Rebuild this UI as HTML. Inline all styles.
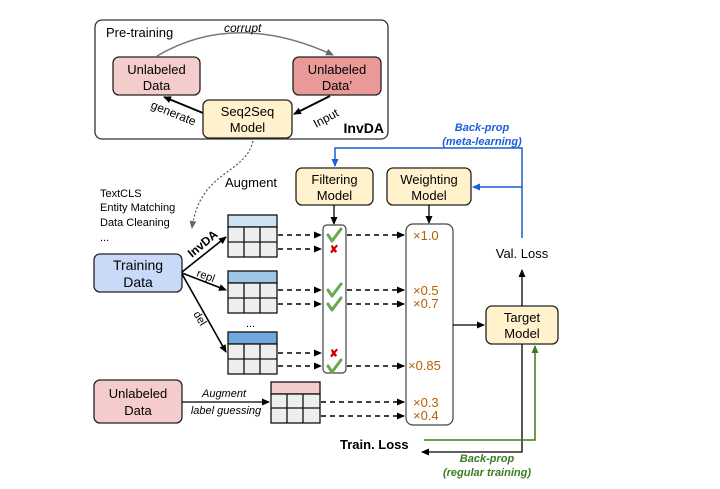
<!DOCTYPE html>
<html><head><meta charset="utf-8"><style>
html,body{margin:0;padding:0;background:#fff;}
svg{display:block;font-family:"Liberation Sans",Arial,sans-serif;}
</style></head><body>
<svg width="720" height="489" viewBox="0 0 720 489" xmlns="http://www.w3.org/2000/svg">
<defs>
<marker id="ab" markerWidth="8" markerHeight="8" refX="7" refY="4" orient="auto" markerUnits="userSpaceOnUse"><path d="M0,0.5 L8,4 L0,7.5 z" fill="#000"/></marker>
<marker id="ag" markerWidth="8" markerHeight="8" refX="7" refY="4" orient="auto" markerUnits="userSpaceOnUse"><path d="M0,0.5 L8,4 L0,7.5 z" fill="#666"/></marker>
<marker id="abl" markerWidth="8" markerHeight="8" refX="7" refY="4" orient="auto" markerUnits="userSpaceOnUse"><path d="M0,0.5 L8,4 L0,7.5 z" fill="#1a5fd6"/></marker>
<marker id="agr" markerWidth="8" markerHeight="8" refX="7" refY="4" orient="auto" markerUnits="userSpaceOnUse"><path d="M0,0.5 L8,4 L0,7.5 z" fill="#3b7d1e"/></marker>
</defs>

<!-- Pre-training box -->
<rect x="95" y="20" width="293" height="119" rx="7" fill="#fff" stroke="#333" stroke-width="1.3"/>
<text x="106" y="37" font-size="13">Pre-training</text>
<text x="384" y="133" font-size="14" font-weight="bold" text-anchor="end">InvDA</text>
<path d="M157,56 Q235,10 333,55" fill="none" stroke="#777" stroke-width="1.5" marker-end="url(#ag)"/>
<text x="224" y="32" font-size="12" font-style="italic">corrupt</text>
<rect x="113" y="57" width="87" height="38" rx="6" fill="#f4cccc" stroke="#222" stroke-width="1.3"/>
<text x="156.5" y="74" font-size="13" text-anchor="middle">Unlabeled</text>
<text x="156.5" y="90" font-size="13" text-anchor="middle">Data</text>
<rect x="293" y="57" width="88" height="38" rx="6" fill="#ea9999" stroke="#222" stroke-width="1.3"/>
<text x="337" y="74" font-size="13" text-anchor="middle">Unlabeled</text>
<text x="337" y="90" font-size="13" text-anchor="middle">Data’</text>
<rect x="203" y="100" width="89" height="38" rx="6" fill="#fff2cc" stroke="#222" stroke-width="1.3"/>
<text x="247.5" y="116" font-size="13" text-anchor="middle">Seq2Seq</text>
<text x="247.5" y="132" font-size="13" text-anchor="middle">Model</text>
<line x1="203" y1="113" x2="164" y2="97" stroke="#000" stroke-width="2" marker-end="url(#ab)"/>
<text x="150" y="108" font-size="12" transform="rotate(22 150 108)">generate</text>
<line x1="330" y1="96" x2="294" y2="114" stroke="#000" stroke-width="2" marker-end="url(#ab)"/>
<text x="316" y="128" font-size="12" transform="rotate(-28 316 128)">Input</text>

<!-- Augment dashed curve -->
<path d="M253,141 C245,175 200,170 192,228" fill="none" stroke="#555" stroke-width="1.2" stroke-dasharray="2,2" marker-end="url(#ag)"/>
<text x="225" y="187" font-size="13">Augment</text>
<text x="100" y="197" font-size="11">TextCLS</text>
<text x="100" y="211" font-size="11">Entity Matching</text>
<text x="100" y="226" font-size="11">Data Cleaning</text>
<text x="100" y="241" font-size="11">...</text>

<!-- Training Data -->
<rect x="94" y="254" width="88" height="38" rx="6" fill="#c9daf8" stroke="#222" stroke-width="1.3"/>
<text x="138" y="270" font-size="14" text-anchor="middle">Training</text>
<text x="138" y="287" font-size="14" text-anchor="middle">Data</text>
<line x1="182" y1="272" x2="226" y2="237" stroke="#000" stroke-width="1.6" marker-end="url(#ab)"/>
<line x1="182" y1="273" x2="226" y2="290" stroke="#000" stroke-width="1.6" marker-end="url(#ab)"/>
<line x1="182" y1="274" x2="226" y2="352" stroke="#000" stroke-width="1.6" marker-end="url(#ab)"/>
<text x="192" y="258" font-size="12" font-weight="bold" transform="rotate(-40 192 258)">InvDA</text>
<text x="196" y="276" font-size="11" transform="rotate(20 196 276)">repl</text>
<text x="193" y="314" font-size="11" transform="rotate(58 193 314)">del</text>
<text x="246" y="327" font-size="11">...</text>

<!-- Tables -->
<g stroke="#111" stroke-width="1.3">
<rect x="228" y="215" width="49" height="12" fill="#cfe2f3"/>
<rect x="228" y="227" width="49" height="30" fill="#eee"/>
<line x1="228" y1="242" x2="277" y2="242"/><line x1="244" y1="227" x2="244" y2="257"/><line x1="260" y1="227" x2="260" y2="257"/>
<rect x="228" y="271" width="49" height="12" fill="#9fc5e8"/>
<rect x="228" y="283" width="49" height="30" fill="#eee"/>
<line x1="228" y1="298" x2="277" y2="298"/><line x1="244" y1="283" x2="244" y2="313"/><line x1="260" y1="283" x2="260" y2="313"/>
<rect x="228" y="332" width="49" height="12" fill="#6fa8dc"/>
<rect x="228" y="344" width="49" height="30" fill="#eee"/>
<line x1="228" y1="359" x2="277" y2="359"/><line x1="244" y1="344" x2="244" y2="374"/><line x1="260" y1="344" x2="260" y2="374"/>
<rect x="271" y="382" width="49" height="12" fill="#f4cccc"/>
<rect x="271" y="394" width="49" height="29" fill="#eee"/>
<line x1="271" y1="408" x2="320" y2="408"/><line x1="287" y1="394" x2="287" y2="423"/><line x1="303" y1="394" x2="303" y2="423"/>
</g>

<!-- Unlabeled Data bottom -->
<rect x="94" y="380" width="88" height="43" rx="6" fill="#f4cccc" stroke="#222" stroke-width="1.3"/>
<text x="138" y="398" font-size="13" text-anchor="middle">Unlabeled</text>
<text x="138" y="415" font-size="13" text-anchor="middle">Data</text>
<line x1="182" y1="402" x2="269" y2="402" stroke="#000" stroke-width="1.3" marker-end="url(#ab)"/>
<text x="224" y="397" font-size="11" font-style="italic" text-anchor="middle">Augment</text>
<text x="226" y="414" font-size="11" font-style="italic" text-anchor="middle">label guessing</text>

<!-- Filtering / Weighting models -->
<rect x="296" y="168" width="77" height="37" rx="6" fill="#fff2cc" stroke="#222" stroke-width="1.3"/>
<text x="334.5" y="184" font-size="13" text-anchor="middle">Filtering</text>
<text x="334.5" y="200" font-size="13" text-anchor="middle">Model</text>
<rect x="387" y="168" width="84" height="37" rx="6" fill="#fff2cc" stroke="#222" stroke-width="1.3"/>
<text x="429" y="184" font-size="13" text-anchor="middle">Weighting</text>
<text x="429" y="200" font-size="13" text-anchor="middle">Model</text>
<line x1="334" y1="205" x2="334" y2="224" stroke="#000" stroke-width="1.3" marker-end="url(#ab)"/>
<line x1="429" y1="205" x2="429" y2="223" stroke="#000" stroke-width="1.3" marker-end="url(#ab)"/>

<rect x="323" y="225" width="23" height="148" rx="4" fill="#fff" stroke="#444" stroke-width="1.2"/>
<rect x="406" y="224" width="47" height="201" rx="7" fill="#fff" stroke="#444" stroke-width="1.2"/>

<!-- dashed arrows -->
<g stroke="#000" stroke-width="1.4" stroke-dasharray="5,4" marker-end="url(#ab)">
<line x1="278" y1="235" x2="321" y2="235"/>
<line x1="278" y1="249" x2="321" y2="249"/>
<line x1="278" y1="290" x2="321" y2="290"/>
<line x1="278" y1="304" x2="321" y2="304"/>
<line x1="278" y1="353" x2="321" y2="353"/>
<line x1="278" y1="366" x2="321" y2="366"/>
<line x1="347" y1="235" x2="404" y2="235"/>
<line x1="347" y1="290" x2="404" y2="290"/>
<line x1="347" y1="304" x2="404" y2="304"/>
<line x1="347" y1="366" x2="404" y2="366"/>
<line x1="321" y1="402" x2="404" y2="402"/>
<line x1="321" y1="416" x2="404" y2="416"/>
</g>

<!-- checks/crosses -->
<g fill="none" stroke="#6aa84f" stroke-width="3" stroke-linecap="round" stroke-linejoin="round">
<path d="M328,235 L332,241 L341,229"/>
<path d="M328,290 L332,296 L341,284"/>
<path d="M328,304 L332,310 L341,298"/>
<path d="M328,366 L332,372 L341,360"/>
</g>
<g fill="#cc0000" font-size="11" font-weight="bold" text-anchor="middle">
<text x="334" y="253">✘</text><text x="334" y="357">✘</text>
</g>

<!-- weights -->
<g fill="#b45f06" font-size="13">
<text x="413" y="240">×1.0</text>
<text x="413" y="295">×0.5</text>
<text x="413" y="308">×0.7</text>
<text x="408" y="370">×0.85</text>
<text x="413" y="407">×0.3</text>
<text x="413" y="420">×0.4</text>
</g>

<!-- Target Model -->
<line x1="453" y1="325" x2="484" y2="325" stroke="#000" stroke-width="1.3" marker-end="url(#ab)"/>
<rect x="486" y="306" width="72" height="38" rx="6" fill="#fff2cc" stroke="#222" stroke-width="1.3"/>
<text x="522" y="322" font-size="13" text-anchor="middle">Target</text>
<text x="522" y="338" font-size="13" text-anchor="middle">Model</text>
<line x1="522" y1="306" x2="522" y2="270" stroke="#000" stroke-width="1.3" marker-end="url(#ab)"/>
<text x="522" y="258" font-size="13" text-anchor="middle">Val. Loss</text>

<!-- blue meta-learning -->
<polyline points="522,238 522,148 335,148 335,166" fill="none" stroke="#1a5fd6" stroke-width="1.5" marker-end="url(#abl)"/>
<line x1="522" y1="187" x2="473" y2="187" stroke="#1a5fd6" stroke-width="1.5" marker-end="url(#abl)"/>
<text x="482" y="131" font-size="11" font-weight="bold" font-style="italic" fill="#1a5fd6" text-anchor="middle">Back-prop</text>
<text x="482" y="145" font-size="11" font-weight="bold" font-style="italic" fill="#1a5fd6" text-anchor="middle">(meta-learning)</text>

<!-- train loss -->
<polyline points="522,344 522,452 422,452" fill="none" stroke="#000" stroke-width="1.3" marker-end="url(#ab)"/>
<polyline points="424,440 535,440 535,346" fill="none" stroke="#3b7d1e" stroke-width="1.5" marker-end="url(#agr)"/>
<text x="340" y="449" font-size="13" font-weight="bold">Train. Loss</text>
<text x="487" y="462" font-size="11" font-weight="bold" font-style="italic" fill="#3b7d1e" text-anchor="middle">Back-prop</text>
<text x="487" y="476" font-size="11" font-weight="bold" font-style="italic" fill="#3b7d1e" text-anchor="middle">(regular training)</text>
</svg>
</body></html>
